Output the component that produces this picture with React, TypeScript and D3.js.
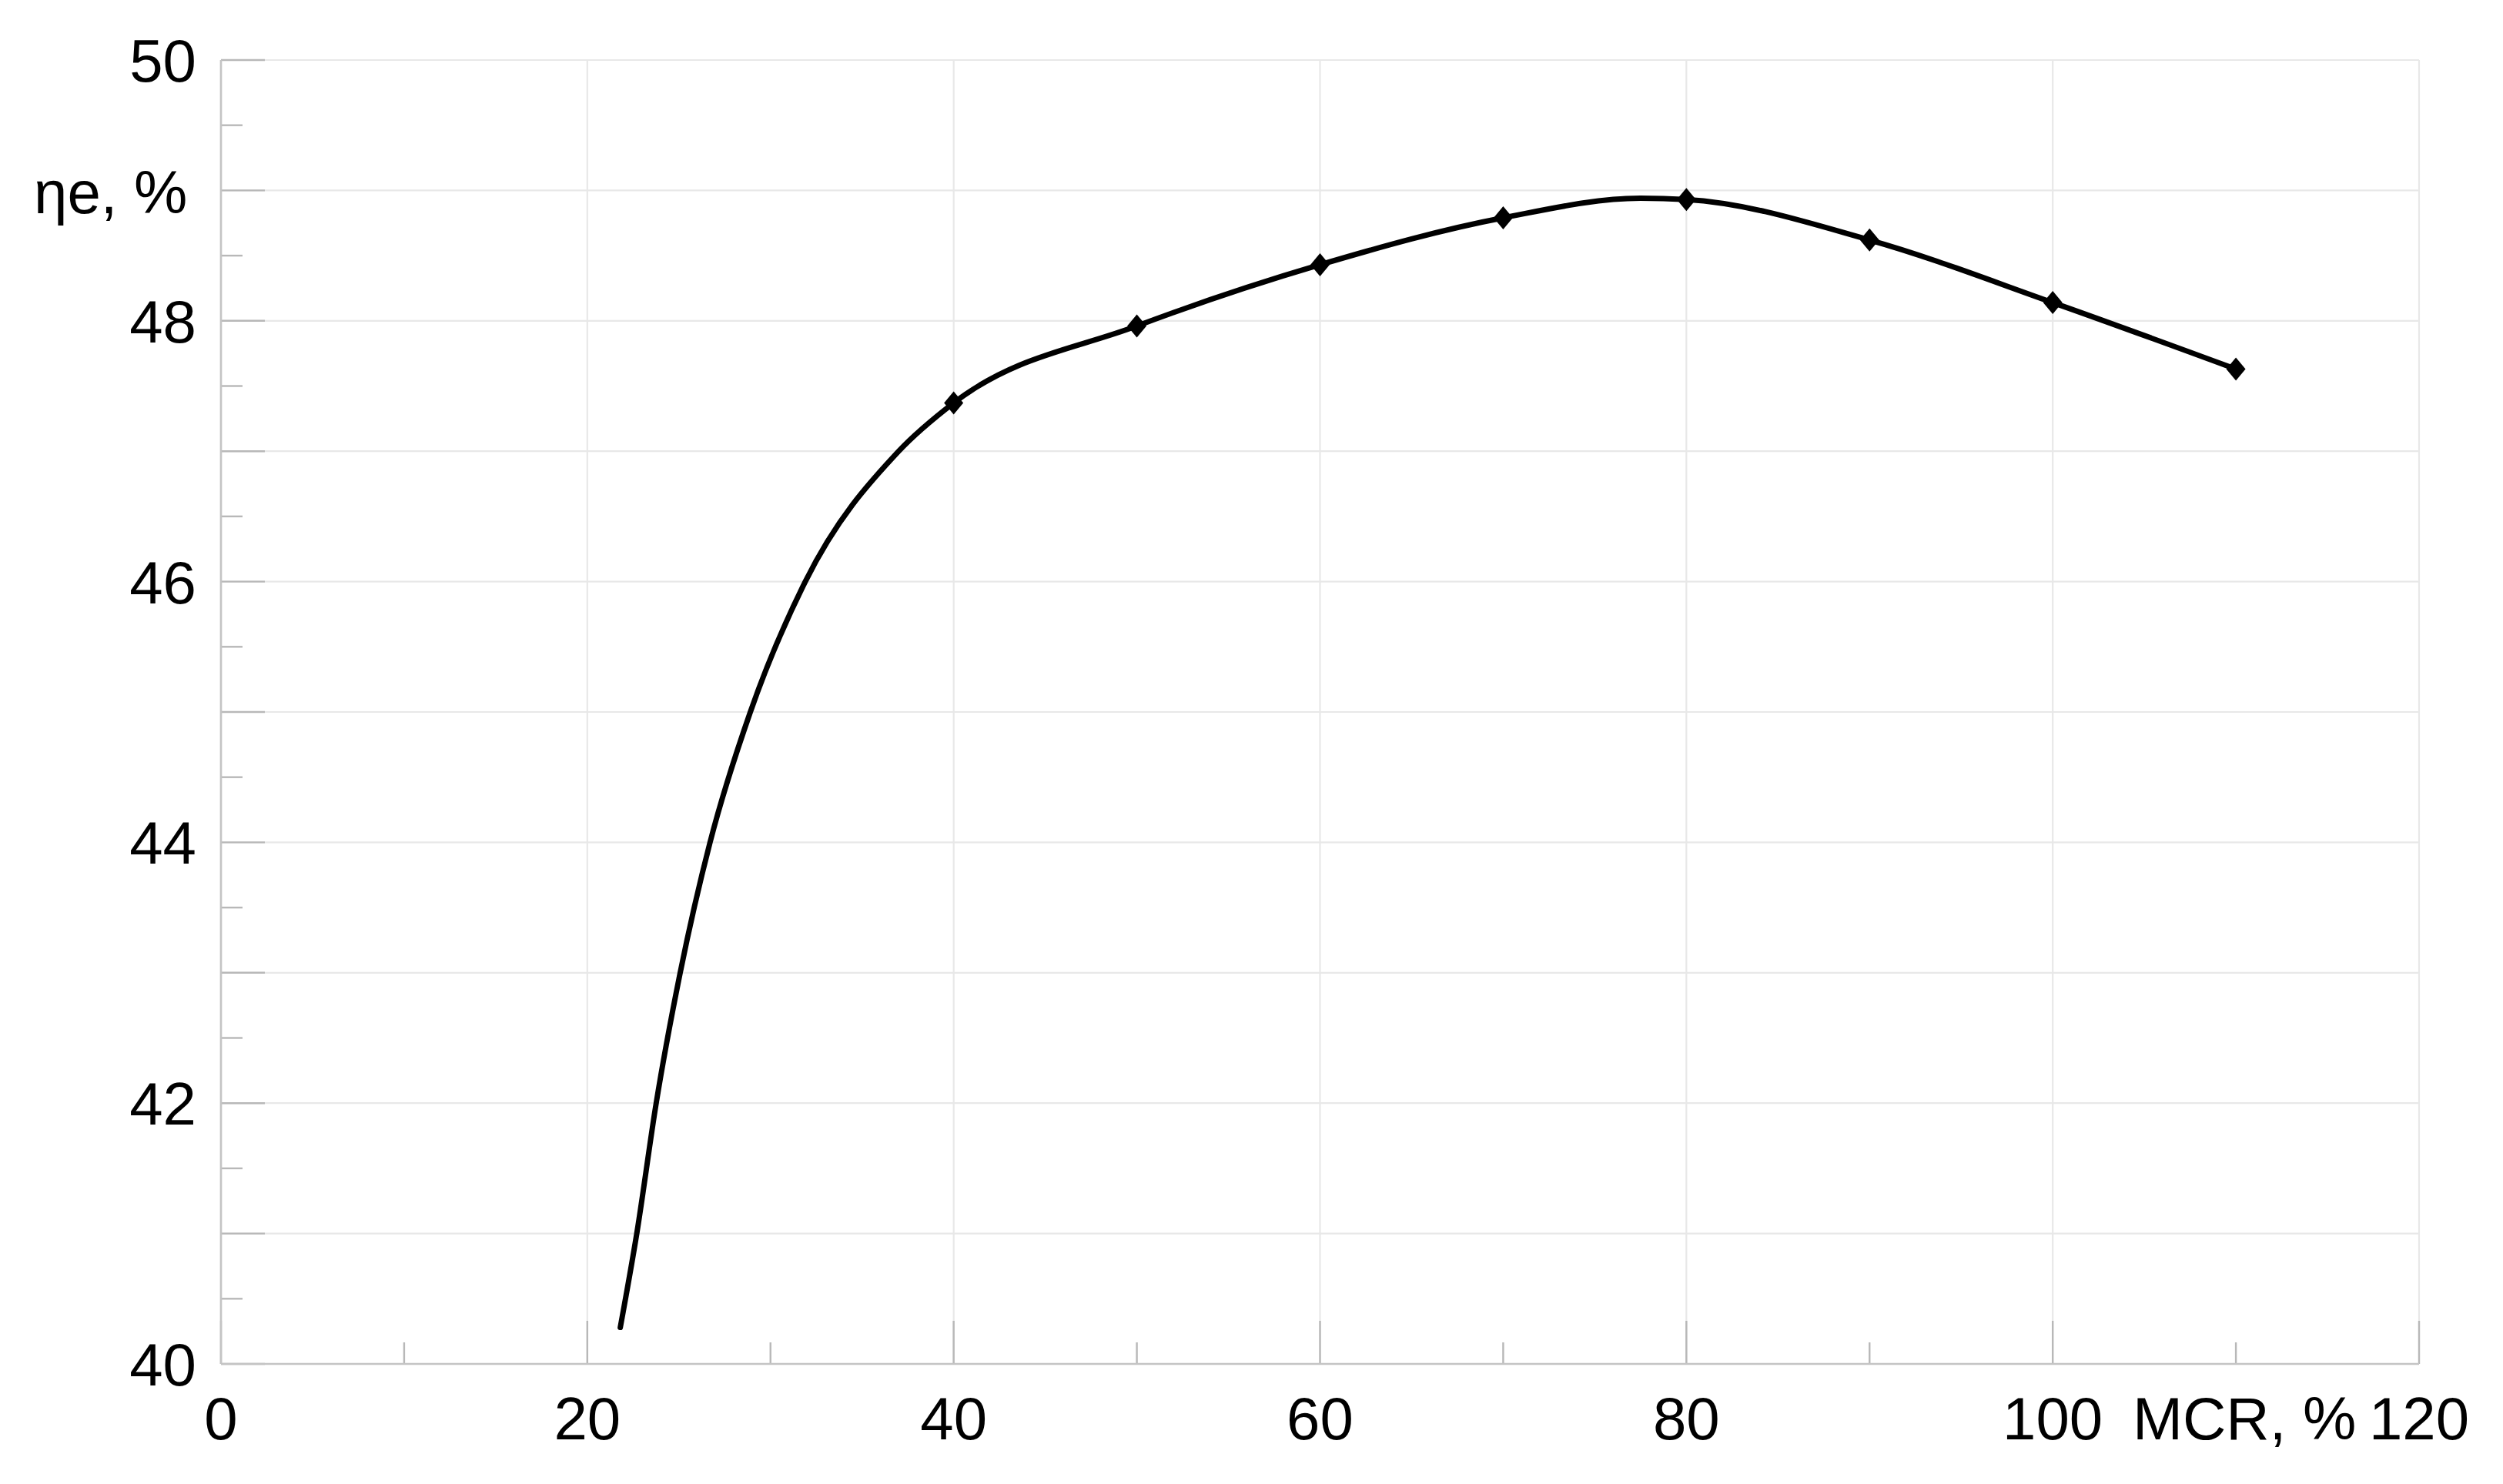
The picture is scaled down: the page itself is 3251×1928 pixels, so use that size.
import React from 'react';
import * as d3 from 'd3';

// Axis tick values
const xTickLabels = [0, 20, 40, 60, 80, 100, 120];
const yTickLabels = [40, 42, 44, 46, 48, 50];

// Smoothed curve
const curveX = [21.8, 22.7, 23.76, 25.07, 26.7, 28.9, 31.9, 37.0, 40, 50, 60, 70, 77.5, 80, 90, 100, 110];
const curveY = [40.28, 41, 42, 43, 44, 45, 46, 47, 47.37, 47.96, 48.43, 48.79, 48.94, 48.93, 48.62, 48.14, 47.63];

// Marked measurement points
const markerX = [40, 50, 60, 70, 80, 90, 100, 110];
const markerY = [47.37, 47.96, 48.43, 48.79, 48.93, 48.62, 48.14, 47.63];

const W = 3251;
const H = 1928;
const M = { left: 287, right: 3142, top: 78, bottom: 1772 };
const FONT = '"Liberation Sans", Arial, Helvetica, sans-serif';

function diamondPath(cx: number, cy: number, hw: number, hh: number) {
  const p = d3.path();
  p.moveTo(cx, cy - hh);
  p.lineTo(cx + hw, cy);
  p.lineTo(cx, cy + hh);
  p.lineTo(cx - hw, cy);
  p.closePath();
  return p.toString();
}

export default function App() {
  const x = d3.scaleLinear().domain([0, 120]).range([M.left, M.right]);
  const y = d3.scaleLinear().domain([40, 50]).range([M.bottom, M.top]);

  const yGrid = d3.range(40, 50.001, 1);
  const yMinor = d3.range(40.5, 50, 1);
  const xGrid = d3.range(0, 120.001, 20);
  const xMinor = d3.range(10, 120, 20);

  const pts: [number, number][] = curveX.map((v, i) => [v, curveY[i]]);
  const line = d3
    .line<[number, number]>()
    .x((d) => x(d[0]))
    .y((d) => y(d[1]))
    .curve(d3.curveMonotoneX);

  const gridColor = '#e8e8e8';
  const axisColor = '#c4c4c4';
  const tickColor = '#b8b8b8';

  return (
    <svg
      width={W}
      height={H}
      style={{ position: 'absolute', left: 0, top: 0, background: '#fff' }}
    >
      <rect x={0} y={0} width={W} height={H} fill="#fff" />
      {/* horizontal grid */}
      {yGrid.map((v) => (
        <line key={'hg' + v} x1={M.left} x2={M.right} y1={y(v)} y2={y(v)} stroke={gridColor} strokeWidth={2.2} />
      ))}
      {/* vertical grid */}
      {xGrid.map((v) => (
        <line key={'vg' + v} x1={x(v)} x2={x(v)} y1={M.top} y2={M.bottom} stroke={gridColor} strokeWidth={2.2} />
      ))}
      {/* y ticks */}
      {yGrid.map((v) => (
        <line key={'yt' + v} x1={M.left} x2={M.left + 57} y1={y(v)} y2={y(v)} stroke={tickColor} strokeWidth={2.4} />
      ))}
      {yMinor.map((v) => (
        <line key={'ym' + v} x1={M.left} x2={M.left + 28} y1={y(v)} y2={y(v)} stroke={tickColor} strokeWidth={2.4} />
      ))}
      {/* x ticks */}
      {xGrid.map((v) => (
        <line key={'xt' + v} x1={x(v)} x2={x(v)} y1={M.bottom} y2={M.bottom - 56} stroke={tickColor} strokeWidth={2.4} />
      ))}
      {xMinor.map((v) => (
        <line key={'xm' + v} x1={x(v)} x2={x(v)} y1={M.bottom} y2={M.bottom - 28} stroke={tickColor} strokeWidth={2.4} />
      ))}
      {/* axes */}
      <line x1={M.left} x2={M.left} y1={M.top} y2={M.bottom} stroke={axisColor} strokeWidth={2.6} />
      <line x1={M.left} x2={M.right} y1={M.bottom} y2={M.bottom} stroke={axisColor} strokeWidth={2.6} />

      {/* curve */}
      <path d={line(pts) || ''} fill="none" stroke="#000" strokeWidth={7} strokeLinejoin="round" strokeLinecap="round" />
      {markerX.map((v, i) => (
        <path key={'mk' + v} d={diamondPath(x(v), y(markerY[i]), 12.5, 15)} fill="#000" />
      ))}

      {/* y tick labels */}
      {yTickLabels.map((v) => (
        <text
          key={'yl' + v}
          x={M.left - 32}
          y={y(v) + 28}
          textAnchor="end"
          fontFamily={FONT}
          fontSize={78}
          fill="#000"
        >
          {v}
        </text>
      ))}
      {/* x tick labels */}
      {xTickLabels.map((v) => (
        <text
          key={'xl' + v}
          x={x(v)}
          y={M.bottom + 98}
          textAnchor="middle"
          fontFamily={FONT}
          fontSize={78}
          fill="#000"
        >
          {v}
        </text>
      ))}
      {/* axis titles */}
      <text x={44} y={277} fontFamily={FONT} fontSize={78} fill="#000">
        ηe, %
      </text>
      <text x={2770} y={M.bottom + 98} fontFamily={FONT} fontSize={78} fill="#000">
        MCR, %
      </text>
    </svg>
  );
}
